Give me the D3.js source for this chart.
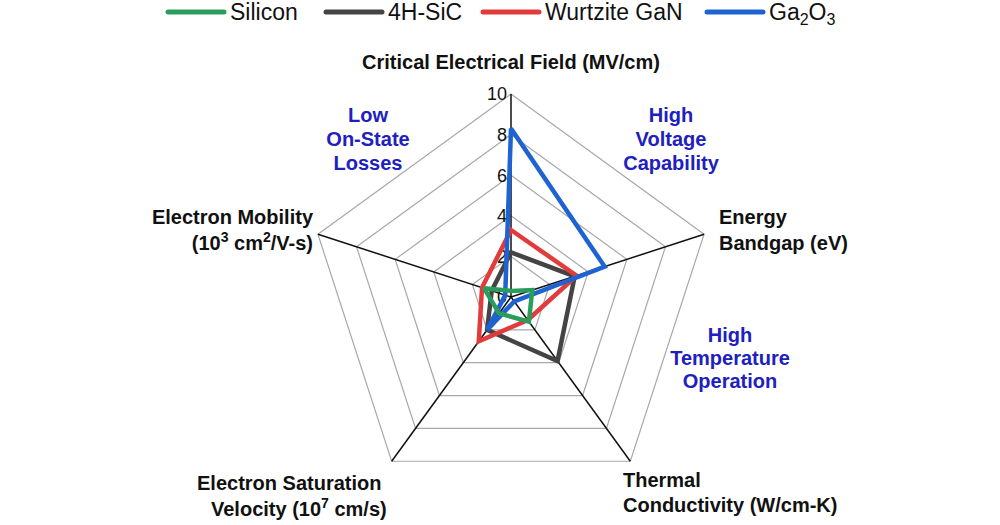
<!DOCTYPE html>
<html>
<head>
<meta charset="utf-8">
<script src="https://cdn.jsdelivr.net/npm/d3@7"></script>
<style>
  html, body { margin: 0; padding: 0; background: #fff; }
  svg { display: block; font-family: "Liberation Sans", Arial, sans-serif; }
</style>
</head>
<body>
<div id="chart"></div>
<script>
// axes, clockwise from the top
const axisKeys = ['field', 'bandgap', 'thermal', 'vsat', 'mobility'];
const tickValues = [0, 2, 4, 6, 8, 10];

const silicon = [0.3, 1.1, 1.5, 1.0, 1.4];
const sic = [2.2, 3.3, 3.9, 2.0, 1.0];
const gan = [3.3, 3.4, 1.4, 2.7, 1.5];
const ga2o3 = [8.3, 4.85, 0.27, 2.0, 0.3];

const seriesNames = ['Silicon', '4H-SiC', 'Wurtzite GaN', 'Ga2O3'];
const seriesColors = ['#2a9d5c', '#444444', '#e23b3b', '#1f63d2'];

const width = 1000;
const height = 525;
const cx = 511;
const cy = 297;
const radius = 203;

let svg = d3.select('#chart')
  .append('svg')
  .attr('width', width)
  .attr('height', height);

let r = d3.scaleLinear().domain([0, 10]).range([0, radius]);
let angle = d3.scaleLinear().domain([0, axisKeys.length]).range([0, 2 * Math.PI]);

let g = svg.append('g')
  .attr('transform', 'translate(' + cx + ',' + cy + ')');

function point (i, v) {
  let a = angle(i);
  return [r(v) * Math.sin(a), -r(v) * Math.cos(a)];
}

// grid pentagons
let ring = d3.lineRadial()
  .angle(function (d, i) { return angle(i); })
  .radius(function (d) { return r(d); })
  .curve(d3.curveLinearClosed);

g.selectAll('.grid')
  .data(tickValues.slice(1))
  .enter()
  .append('path')
  .attr('class', 'grid')
  .attr('d', function (t) { return ring(axisKeys.map(function () { return t; })); })
  .attr('fill', 'none')
  .attr('stroke', '#a8a8a8')
  .attr('stroke-width', 1.2);

// spokes
g.selectAll('.spoke')
  .data(axisKeys)
  .enter()
  .append('line')
  .attr('class', 'spoke')
  .attr('x1', 0)
  .attr('y1', 0)
  .attr('x2', function (d, i) { return point(i, 10)[0]; })
  .attr('y2', function (d, i) { return point(i, 10)[1]; })
  .attr('stroke', '#111')
  .attr('stroke-width', 1.5);

// tick labels on the top axis
g.selectAll('.tick')
  .data(tickValues)
  .enter()
  .append('text')
  .attr('class', 'tick')
  .attr('x', -4)
  .attr('y', function (d) { return -r(d); })
  .attr('dy', '0.36em')
  .attr('text-anchor', 'end')
  .style('font-size', '18px')
  .style('fill', '#111')
  .text(function (d) { return d; });

// series, silicon drawn last
let seriesData = [silicon, sic, gan, ga2o3];
let drawOrder = [1, 2, 3, 0];

g.selectAll('.series')
  .data(drawOrder)
  .enter()
  .append('path')
  .attr('class', 'series')
  .attr('d', function (k) { return ring(seriesData[k]); })
  .attr('fill', 'none')
  .attr('stroke', function (k) { return seriesColors[k]; })
  .attr('stroke-width', 4.5)
  .attr('stroke-linejoin', 'miter')
  .attr('stroke-miterlimit', 2);

// axis titles
function addLabel (x, y, anchor, color, lines) {
  let text = svg.append('text')
    .attr('text-anchor', anchor)
    .style('font-size', '20px')
    .style('font-weight', 'bold')
    .style('fill', color);
  lines.forEach(function (line) {
    let first = true;
    line.parts.forEach(function (p) {
      let ts = text.append('tspan').text(p[0]);
      if (first) {
        ts.attr('x', line.x !== undefined ? line.x : x).attr('y', line.y);
        first = false;
      }
      if (p[1] === 'sup') {
        ts.attr('dy', -8).style('font-size', '14px');
      } else if (p[1] === 'base') {
        ts.attr('dy', 8);
      }
    });
  });
}

addLabel(511, 0, 'middle', '#111', [
  { y: 69, parts: [['Critical Electrical Field (MV/cm)']] }
]);
addLabel(719, 0, 'start', '#111', [
  { y: 224, parts: [['Energy']] },
  { y: 250, parts: [['Bandgap (eV)']] }
]);
addLabel(623, 0, 'start', '#111', [
  { y: 487, parts: [['Thermal']] },
  { y: 512, parts: [['Conductivity (W/cm-K)']] }
]);
addLabel(0, 0, 'start', '#111', [
  { x: 197, y: 490, parts: [['Electron Saturation']] },
  { x: 211, y: 516, parts: [['Velocity (10'], ['7', 'sup'], [' cm/s)', 'base']] }
]);
addLabel(313, 0, 'end', '#111', [
  { y: 224, parts: [['Electron Mobility']] },
  { y: 250, parts: [['(10'], ['3', 'sup'], [' cm', 'base'], ['2', 'sup'], ['/V-s)', 'base']] }
]);

const noteColor = '#2020c0';
addLabel(368, 0, 'middle', noteColor, [
  { y: 122, parts: [['Low']] },
  { y: 146, parts: [['On-State']] },
  { y: 170, parts: [['Losses']] }
]);
addLabel(671, 0, 'middle', noteColor, [
  { y: 122, parts: [['High']] },
  { y: 146, parts: [['Voltage']] },
  { y: 170, parts: [['Capability']] }
]);
addLabel(730, 0, 'middle', noteColor, [
  { y: 342, parts: [['High']] },
  { y: 365, parts: [['Temperature']] },
  { y: 388, parts: [['Operation']] }
]);

// legend
const legendX = [168, 326, 483, 707];
let legend = svg.selectAll('.legend')
  .data(seriesNames)
  .enter()
  .append('g')
  .attr('class', 'legend')
  .attr('transform', function (d, i) { return 'translate(' + legendX[i] + ', 12)'; });

legend.append('line')
  .attr('x1', 0)
  .attr('x2', 56)
  .attr('stroke', function (d, i) { return seriesColors[i]; })
  .attr('stroke-width', 5)
  .attr('stroke-linecap', 'round');

legend.append('text')
  .attr('x', 62)
  .attr('y', 8)
  .style('font-size', '23px')
  .style('fill', '#111')
  .each(function (d) {
    let t = d3.select(this);
    if (d === 'Ga2O3') {
      t.append('tspan').text('Ga');
      t.append('tspan').text('2').attr('dy', 5).style('font-size', '16px');
      t.append('tspan').text('O').attr('dy', -5);
      t.append('tspan').text('3').attr('dy', 5).style('font-size', '16px');
    } else {
      t.text(d);
    }
  });
</script>
</body>
</html>
